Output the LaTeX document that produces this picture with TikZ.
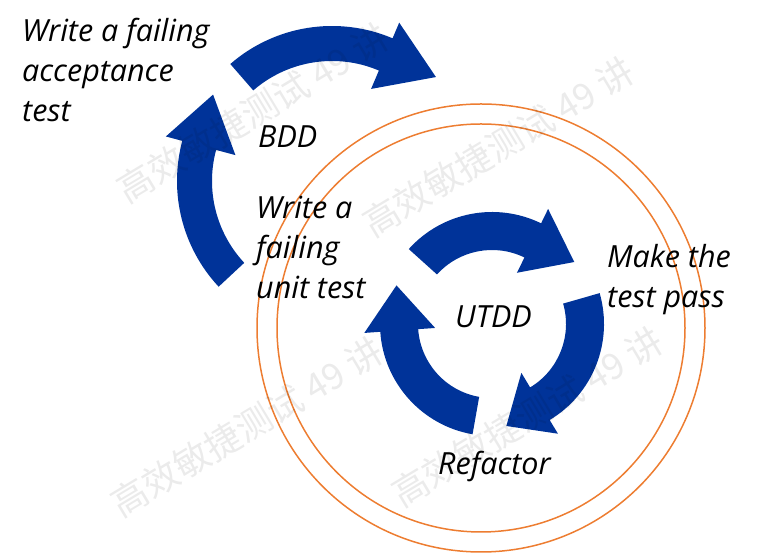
\documentclass[tikz,border=0pt]{standalone}
\usepackage{fontspec}
\setmainfont{Open Sans}
\newfontfamily\cjk{Noto Sans CJK SC}
\definecolor{arrowblue}{RGB}{0,51,153}
\definecolor{ringorange}{RGB}{237,125,49}
\newcommand\cyclearrow[9]{%
  \fill[arrowblue, shift={#1}] (#4:#3pt) arc[start angle=#4, end angle=#5, radius=#3pt]
    -- (#5:#8pt) -- (#6:#9pt) -- (#5:#7pt) -- (#5:#2pt)
    arc[start angle=#5, end angle=#4, radius=#2pt] -- cycle;}
\tikzset{
  label/.style={font=\fontsize{30.5}{40}\selectfont\itshape, inner sep=0pt, anchor=base west, align=left, text=black},
  ring/.style={draw=ringorange, line width=1.5pt},
  watermark/.style={font=\cjk\fontsize{36}{36}\selectfont, text=black, opacity=0.08, rotate=31},
}
\begin{document}
\begin{tikzpicture}[x=1pt,y=1pt]
\useasboundingbox (0,0) rectangle (766,553);
% orange rings
\coordinate (rc) at (481,225);
\draw[ring] (rc) circle[radius=224pt];
\draw[ring] (rc) circle[radius=204pt];
% BDD cycle
\cyclearrow{(332,372)}{120}{155}{131}{67}{45}{100}{172}{147}
\cyclearrow{(332,372)}{120}{155}{223}{165}{144}{100}{172}{147}
% UTDD cycle
\cyclearrow{(492,229)}{74}{112}{138}{64}{37}{57}{128}{103}
\cyclearrow{(492,229)}{74}{112}{16}{-59}{-82}{57}{128}{103}
\cyclearrow{(492,229)}{74}{112}{260}{184}{158}{57}{128}{103}
% labels (base anchor = baseline of last line)
\node[label] (acc) at (22,431) {Write a failing\\acceptance\\test};
\node[label] (bdd) at (258,405) {BDD};
\node[label] (unit) at (256,254) {Write a\\failing\\unit test};
\node[label] (make) at (607,245) {Make the\\test pass};
\node[label] (utdd) at (455,225) {UTDD};
\node[label] (ref) at (438,78) {Refactor};
% watermarks
\node[watermark] (w1) at (253,440) {高效敏捷测试 49 讲};
\node[watermark] (w2) at (498,406) {高效敏捷测试 49 讲};
\node[watermark] (w3) at (247,126) {高效敏捷测试 49 讲};
\node[watermark] (w4) at (527,136) {高效敏捷测试 49 讲};
\end{tikzpicture}
\end{document}
